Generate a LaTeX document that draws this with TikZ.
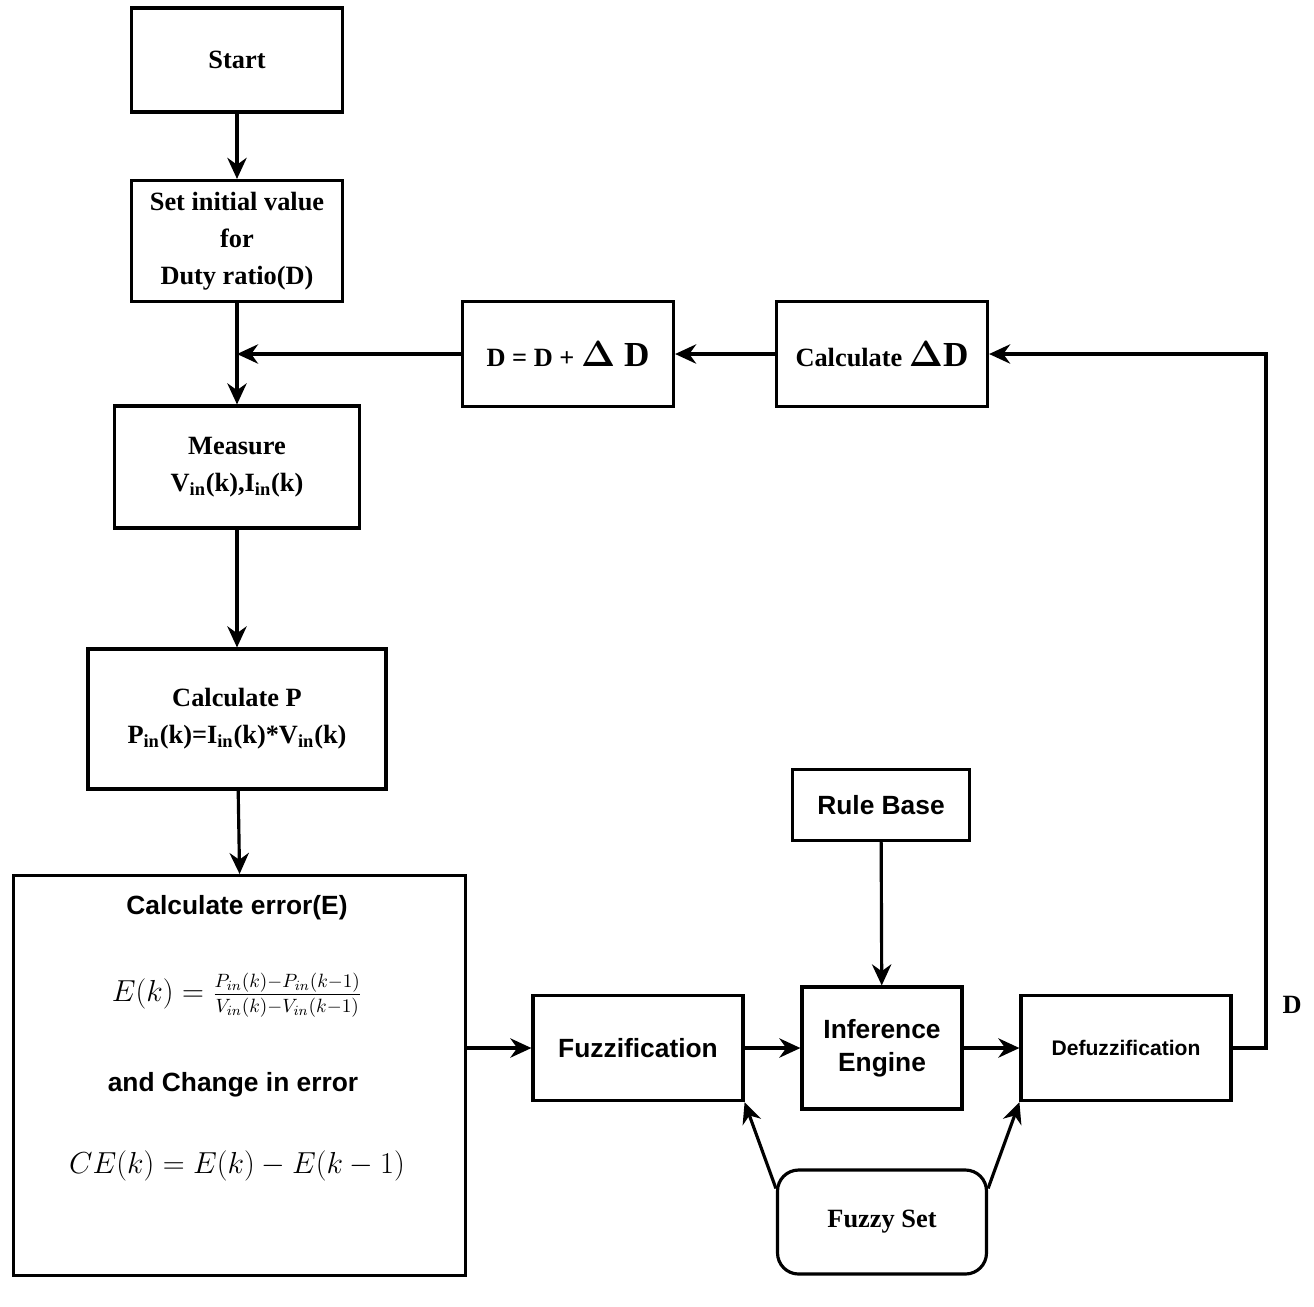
\documentclass[tikz,border=0pt]{standalone}
\usepackage{amsmath}
\usepackage{fontspec}
\setmainfont{Liberation Serif}
\newfontfamily\sansf{Liberation Sans}
\usetikzlibrary{arrows.meta}
\begin{document}
\begin{tikzpicture}[x=0.02cm,y=-0.02cm,
 box/.style={draw,line width=1.8pt,inner sep=0pt,font=\bfseries\fontsize{15}{19}\selectfont,align=center},
 arr/.style={line width=1.8pt,-{Stealth[length=12pt,width=11pt]}},
 ln/.style={line width=1.8pt}]
\useasboundingbox (0,0) rectangle (1314,1306);
\node[box,minimum width=211*0.02cm,minimum height=104*0.02cm] (start) at (237,60) {Start};
\node[box,minimum width=211*0.02cm,minimum height=121*0.02cm] (init) at (237,241) {Set initial value\\[2pt]for\\[2pt]Duty ratio(D)};
\node[box,minimum width=245*0.02cm,minimum height=122*0.02cm] (meas) at (237,467) {Measure\\[2pt]V$_{\mathbf{in}}$(k),I$_{\mathbf{in}}$(k)};
\node[box,minimum width=298*0.02cm,minimum height=140*0.02cm] (calcp) at (237,719) {Calculate P\\[2pt]P$_{\mathbf{in}}$(k)=I$_{\mathbf{in}}$(k)*V$_{\mathbf{in}}$(k)};
\node[box,minimum width=452*0.02cm,minimum height=400*0.02cm,anchor=north west] (err) at (12,874) {};
\node[font=\sansf\bfseries\fontsize{15}{19}\selectfont] (t1) at (237,908) {Calculate error(E)};
\node[font=\fontsize{16}{19}\selectfont] (t2) at (237,995) {$E(k)=\frac{P_{in}(k)-P_{in}(k-1)}{V_{in}(k)-V_{in}(k-1)}$};
\node[font=\sansf\bfseries\fontsize{15}{19}\selectfont] (t3) at (233,1085) {and Change in error};
\node[font=\fontsize{17}{19}\selectfont] (t4) at (237,1166) {$CE(k)=E(k)-E(k-1)$};
\node[box,minimum width=211*0.02cm,minimum height=105*0.02cm] (dd) at (568,354) {D = D + {\fontsize{20}{20}\selectfont$\boldsymbol\Delta$ D}};
\node[box,minimum width=211*0.02cm,minimum height=105*0.02cm] (cdd) at (882,354) {Calculate {\fontsize{20}{20}\selectfont$\boldsymbol\Delta$D}};
\node[box,font=\sansf\bfseries\fontsize{15}{19}\selectfont,minimum width=177*0.02cm,minimum height=71*0.02cm] (rule) at (881,805) {Rule Base};
\node[box,font=\sansf\bfseries\fontsize{15}{19}\selectfont,minimum width=160*0.02cm,minimum height=122*0.02cm] (inf) at (882,1048) {Inference\\Engine};
\node[box,font=\sansf\bfseries\fontsize{15}{19}\selectfont,minimum width=210*0.02cm,minimum height=105*0.02cm] (fuz) at (638,1048) {Fuzzification};
\node[box,font=\sansf\bfseries\fontsize{12}{19}\selectfont,minimum width=210*0.02cm,minimum height=105*0.02cm] (def) at (1126,1048) {Defuzzification};
\node[box,rounded corners=12pt,minimum width=209*0.02cm,minimum height=104*0.02cm] (fs) at (882,1222) {Fuzzy Set};
\node[font=\bfseries\fontsize{15}{19}\selectfont] (dl) at (1292,1005) {D};
\coordinate (j) at (237,354);
\coordinate (c1) at (1266,1048);
\coordinate (c2) at (1266,354);
\draw[arr] (start) -- (init);
\draw[arr] (init) -- (meas);
\draw[arr] (meas) -- (calcp);
\draw[arr] (calcp) -- (err.north);
\draw[arr] (dd.west) -- (j);
\draw[arr] (cdd) -- (dd);
\draw[arr] (def.east) -- (c1) -- (c2) -- (cdd.east);
\draw[arr] (err.east|-fuz) -- (fuz.west);
\draw[arr] (fuz) -- (inf);
\draw[arr] (inf) -- (def);
\draw[arr] (rule) -- (inf);
\draw[arr] ([yshift=-0.4cm]fs.north west) -- (fuz.south east);
\draw[arr] ([yshift=-0.4cm]fs.north east) -- (def.south west);
\end{tikzpicture}
\end{document}
